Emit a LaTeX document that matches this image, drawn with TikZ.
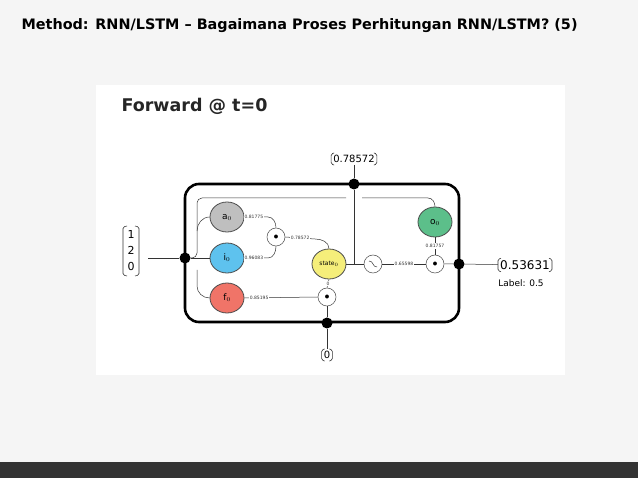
\documentclass[tikz,border=0pt]{standalone}
\usepackage{fontspec}
\setmainfont{DejaVu Sans}
\usetikzlibrary{shapes.geometric}
\definecolor{gblue}{HTML}{5EC2EE}
\definecolor{ggreen}{HTML}{5CBF8A}
\definecolor{gred}{HTML}{F07468}
\definecolor{gyellow}{HTML}{F5EE7A}
\begin{document}
\begin{tikzpicture}[x=1pt,y=-1pt,
  gate/.style={ellipse,draw=black!70,line width=0.8pt,minimum width=34pt,minimum height=30pt,inner sep=0pt,font=\small},
  op/.style={circle,draw=black!70,line width=0.5pt,fill=white,minimum size=18pt,inner sep=0pt},
  jn/.style={circle,fill=black,minimum size=11pt,inner sep=0pt},
  val/.style={font=\fontsize{4.5}{5}\selectfont,inner sep=1pt,fill=white},
  vec/.style={font=\fontsize{10}{12}\selectfont,inner sep=2pt},
  brk/.style={line width=0.6pt,black!80,rounded corners=1.5pt},
  wire/.style={line width=0.5pt,black!80}]
% slide background
\fill[black!4] (0,0) rectangle (638,478);
\fill[black!80] (0,462) rectangle (638,478);
\node[anchor=west,font=\bfseries\fontsize{14.4}{16}\selectfont] (title) at (18,26) {Method: RNN/LSTM – Bagaimana Proses Perhitungan RNN/LSTM? (5)};
\fill[white] (96,85) rectangle (565,375);
\node[anchor=west,font=\bfseries\fontsize{17.5}{19}\selectfont,black!85] (head) at (118,106) {Forward @ t=0};
% cell box
\draw[line width=2.6pt,rounded corners=14pt] (185,184) rectangle (459,322);
% junctions
\node[jn] (jl) at (185,258) {};
\node[jn] (jt) at (354,184) {};
\node[jn] (jr) at (459,264) {};
\node[jn] (jb) at (327,323) {};
% gates
\node[gate,fill=black!25] (a) at (227,217) {a$_0$};
\node[gate,fill=gblue] (i) at (227,258) {i$_0$};
\node[gate,fill=gred] (f) at (227,298) {f$_0$};
\node[gate,fill=ggreen] (o) at (435,222) {o$_0$};
\node[gate,fill=gyellow,font=\fontsize{6}{7}\selectfont] (s) at (329,264) {state$_0$};
% operators
\node[op] (m1) at (276,237) {$\bullet$};
\node[op] (mf) at (327,297) {$\bullet$};
\node[op] (sg) at (373,264) {};
\draw[wire] ([xshift=-4pt,yshift=3pt]sg.center) .. controls ([xshift=1pt,yshift=3pt]sg.center) and ([xshift=-1pt,yshift=-3pt]sg.center) .. ([xshift=4pt,yshift=-3pt]sg.center);
\node[op] (mo) at (435,264) {$\bullet$};
% vectors
\node[vec,align=center,font=\fontsize{11}{16}\selectfont] (x) at (131,251) {1\\2\\0};
\coordinate (xe) at (148,258);
\draw[brk] (127,226) -- (123,227) -- (123,275) -- (127,276);
\draw[brk] (135,226) -- (139,227) -- (139,275) -- (135,276);
\node[vec] (h) at (354,159) {0.78572};
\draw[brk] ([xshift=3pt]h.north west) -- ([xshift=0pt,yshift=-1pt]h.north west) -- ([yshift=1pt]h.south west) -- ([xshift=3pt]h.south west);
\draw[brk] ([xshift=-3pt]h.north east) -- ([yshift=-1pt]h.north east) -- ([yshift=1pt]h.south east) -- ([xshift=-3pt]h.south east);
\node[vec] (c) at (327,355) {0};
\draw[brk] ([xshift=3pt]c.north west) -- ([yshift=-1pt]c.north west) -- ([yshift=1pt]c.south west) -- ([xshift=3pt]c.south west);
\draw[brk] ([xshift=-3pt]c.north east) -- ([yshift=-1pt]c.north east) -- ([yshift=1pt]c.south east) -- ([xshift=-3pt]c.south east);
\node[vec,font=\fontsize{12}{14}\selectfont] (y) at (525,265) {0.53631};
\draw[brk] ([xshift=3pt]y.north west) -- ([yshift=-1pt]y.north west) -- ([yshift=1pt]y.south west) -- ([xshift=3pt]y.south west);
\draw[brk] ([xshift=-3pt]y.north east) -- ([yshift=-1pt]y.north east) -- ([yshift=1pt]y.south east) -- ([xshift=-3pt]y.south east);
\node[font=\fontsize{9}{11}\selectfont] (lab) at (521,283) {Label: 0.5};
% wires
\draw[wire] (xe) -- (jl) -- (i);
\draw[wire,rounded corners=5pt] (jl) -- (197,258) -- (197,198) -- (346,198);
\draw[wire] (197,231) to[out=90,in=180] (a.west);
\draw[wire] (197,270) -- (197,286) to[out=-90,in=180] (f.west);
\draw[wire] (362,198) -- (428,198) to[out=0,in=90] (o.north);
\draw[wire] (h) -- (jt) -- (354,264);
\draw[wire] (a.east) -- node[val,pos=0.4]{0.81775} (268,217) to[out=0,in=90] (m1.north);
\draw[wire] (i.east) -- node[val,pos=0.4]{0.96083} (268,258) to[out=0,in=-90] (m1.south);
\draw[wire] (m1.east) -- node[val]{0.78572} (315,239) to[out=0,in=90] (s.north);
\draw[wire] (f.east) -- node[val,pos=0.2]{0.85195} (mf.west);
\draw[wire] (s.south) -- node[val]{0} (mf.north);
\draw[wire] (mf) -- (jb) -- (c);
\draw[wire] (s.east) -- (sg.west);
\draw[wire] (sg.east) -- node[val]{0.65598} (mo.west);
\draw[wire] (o.south) -- node[val]{0.81757} (mo.north);
\draw[wire] (mo) -- (jr) -- (y);
\end{tikzpicture}
\end{document}
